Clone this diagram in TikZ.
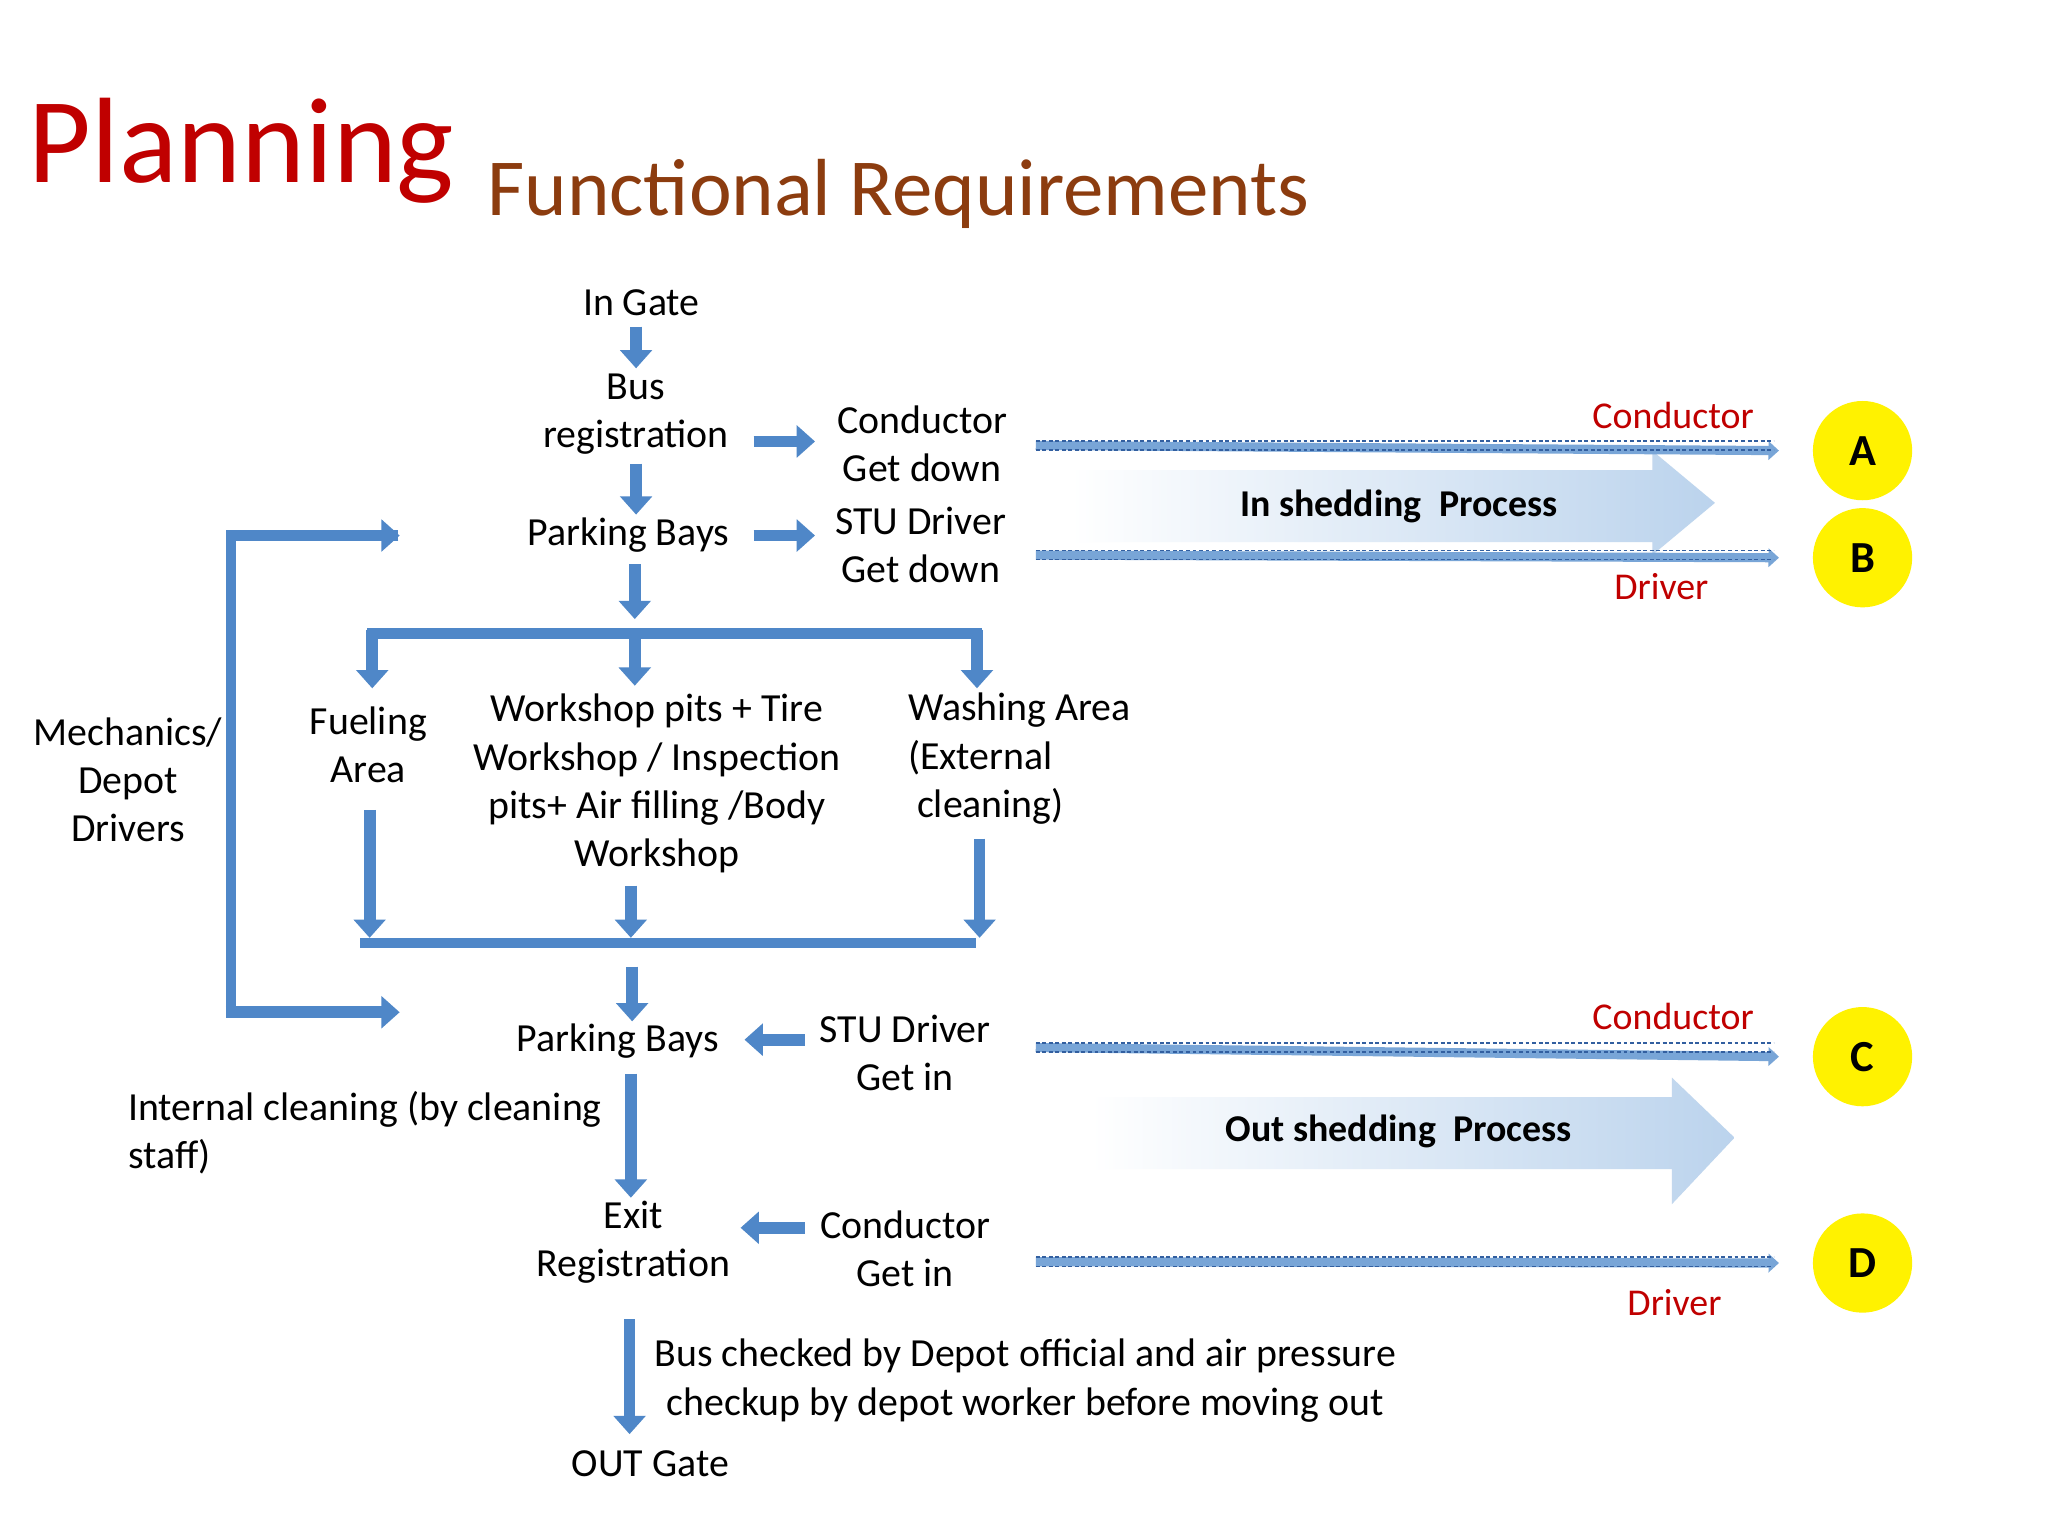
\documentclass[tikz,border=0pt]{standalone}
\usepackage{fontspec}
\setmainfont{Carlito}
\usetikzlibrary{arrows.meta,shadings}
\definecolor{ab}{RGB}{79,135,200}
\definecolor{abd}{RGB}{50,95,160}
\definecolor{dred}{RGB}{192,0,0}
\definecolor{brn}{RGB}{140,60,15}
\definecolor{lb}{RGB}{170,200,232}
\definecolor{db}{RGB}{120,165,215}
\tikzset{
 txt/.style={font=\fontsize{30.5}{37}\selectfont, align=center, inner sep=0pt},
 red/.style={font=\fontsize{29}{34}\selectfont, text=dred, inner sep=0pt},
 blk/.style={draw=ab, line width=9pt, -{Triangle[width=24pt,length=14pt]}},
 bar/.style={draw=ab, line width=8pt},
 dsh/.style={draw=db, line width=7pt, -{Triangle[width=14pt,length=8pt]}},
 circ/.style={circle, fill=yellow, minimum size=76pt, inner sep=0pt, font=\fontsize{34}{34}\selectfont\bfseries},
}
\begin{document}
\begin{tikzpicture}[x=1pt,y=-1pt]
\useasboundingbox (0,0) rectangle (1568,1176);
\fill[white] (0,0) rectangle (1568,1176);
% titles
\node[anchor=base west, text=dred, font=\fontsize{93}{93}\selectfont, inner sep=0pt] (t1) at (22,140) {Planning};
\node[anchor=base west, text=brn, font=\fontsize{62}{62}\selectfont, inner sep=0pt] (t2) at (373,165) {Functional Requirements};
% big process arrows
\shade[left color=white, right color=lb!80] (820,360) -- (1265,360) -- (1265,345) -- (1313,385) -- (1265,425) -- (1265,415) -- (820,415) -- cycle;
\shade[left color=white, right color=lb!80] (835,840) -- (1280,840) -- (1280,825) -- (1328,871) -- (1280,922) -- (1280,895) -- (835,895) -- cycle;
\node[txt, font=\fontsize{29}{34}\selectfont\bfseries] (ip) at (1071,388) {In shedding\ \ Process};
\node[txt, font=\fontsize{29}{34}\selectfont\bfseries] (op) at (1071,866) {Out shedding\ \ Process};
% nodes
\node[txt] (ingate) at (491,232) {In Gate};
\node[txt] (busreg) at (487,317) {Bus\\registration};
\node[txt] (cgd) at (706,340) {Conductor\\Get down};
\node[txt] (pb1) at (481,410) {Parking Bays};
\node[txt] (sgd) at (705,417) {STU Driver\\Get down};
\node[txt] (fuel) at (282,570) {Fueling\\Area};
\node[txt] (work) at (503,600) {Workshop pits + Tire\\Workshop / Inspection\\pits+ Air filling /Body\\Workshop};
\node[txt, align=left, anchor=west] (wash) at (695,581) {Washing Area\\(External\\\ cleaning)};
\node[txt] (mech) at (98,597) {Mechanics/\\Depot\\Drivers};
\node[txt] (pb2) at (473,797) {Parking Bays};
\node[txt] (sgi) at (693,806) {STU Driver\\Get in};
\node[txt, align=left, anchor=west] (int) at (98,867) {Internal cleaning (by cleaning\\staff)};
\node[txt] (exit) at (485,951) {Exit\\Registration};
\node[txt] (cgi) at (693,956) {Conductor\\Get in};
\node[txt] (chk) at (785,1057) {Bus checked by Depot official and air pressure\\checkup by depot worker before moving out};
\node[txt] (out) at (498,1121) {OUT Gate};
% circles
\node[circ] (A) at (1426,345) {A};
\node[circ] (B) at (1426,427) {B};
\node[circ] (C) at (1426,809) {C};
\node[circ] (D) at (1426,967) {D};
\node[red] (lc1) at (1281,318) {Conductor};
\node[red] (ld1) at (1272,449) {Driver};
\node[red] (lc2) at (1281,778) {Conductor};
\node[red] (ld2) at (1282,997) {Driver};
% dashed arrows
\foreach \y/\n in {341/A,425/B,802/C,966/D}{
 \draw[dsh] (793,\y) -- (\n.west -| 1362,\y);
 \draw[abd, densely dashed, line width=1.2pt] (793,\y-3.5) -- (1358,\y-3.5);
 \draw[abd, densely dashed, line width=1.2pt] (793,\y+3.5) -- (1358,\y+3.5);
}
% flow arrows
\draw[blk] (487,250) -- (487,282);
\draw[blk] (577,338) -- (624,338);
\draw[blk] (487,355) -- (487,394);
\draw[blk] (577,410) -- (624,410);
\draw[blk] (486,432) -- (486,474);
\draw[bar] (281,485) -- (752,485);
\draw[blk] (285,482) -- (285,527);
\draw[blk] (486,482) -- (486,525);
\draw[blk] (748,482) -- (748,527);
\draw[blk] (283,620) -- (283,718);
\draw[blk] (483,678) -- (483,718);
\draw[blk] (750,642) -- (750,718);
\draw[bar] (276,722) -- (747,722);
\draw[blk] (484,740) -- (484,782);
\draw[blk] (616,796) -- (570,796);
\draw[bar] (305,410) -- (177,410) -- (177,775);
\draw[blk] (177,410) -- (306,410);
\draw[blk] (173,775) -- (306,775);
\draw[blk] (483,822) -- (483,917);
\draw[blk] (616,940) -- (567,940);
\draw[blk] (482,1010) -- (482,1098);
\end{tikzpicture}
\end{document}
